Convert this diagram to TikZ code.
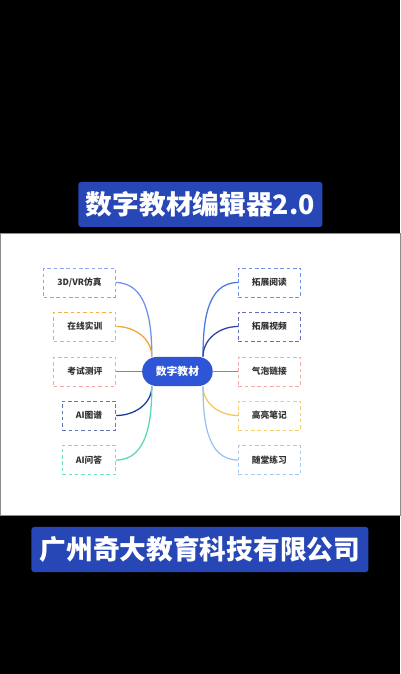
\documentclass[tikz,border=0pt]{standalone}
\usepackage{fontspec}
\setmainfont{Noto Sans CJK SC}

\definecolor{bannerblue}{HTML}{2847B6}
\definecolor{hubblue}{HTML}{2D55D6}
\definecolor{vrc}{HTML}{7090F0}
\definecolor{sxc}{HTML}{F0A830}
\definecolor{cpc}{HTML}{F05A5A}
\definecolor{tpc}{HTML}{1C3A9C}
\definecolor{wdc}{HTML}{5AD8BC}
\definecolor{ydc}{HTML}{4A78E6}
\definecolor{spc}{HTML}{3040A8}
\definecolor{qpc}{HTML}{F06060}
\definecolor{bjc}{HTML}{F2C860}
\definecolor{lxc}{HTML}{98C4F4}

\begin{document}
\begin{tikzpicture}[
    x=0.025cm, y=-0.025cm,
    banner/.style={fill=bannerblue, rounded corners=2pt, text=white, minimum height=1.125cm, font=\fontsize{19}{22}\selectfont\bfseries},
    hub/.style={fill=hubblue, rounded corners=0.36cm, text=white, minimum height=0.725cm, inner xsep=0.34cm, font=\fontsize{7.7}{9}\selectfont\bfseries},
    topic/.style={draw=#1, dashed, dash pattern=on 2.5pt off 2pt, line width=0.7pt, minimum height=0.725cm, inner xsep=0.34cm, text=black!80, font=\fontsize{6.2}{7}\selectfont\bfseries},
    link/.style={draw=#1, line width=0.9pt}
]

% Background
\fill[black] (0,0) rectangle (400,674);
\filldraw[fill=white, draw=black!45, line width=0.6pt] (0,233) rectangle (400,515);

% Banners
\node[banner, minimum width=6.1cm] (title) at (200,204.5) {数字教材编辑器2.0};
\node[banner, minimum width=8.425cm] (company) at (199.5,549.5) {广州奇大教育科技有限公司};

% Center
\node[hub] (hub) at (177,371.5) {数字教材};

% Left topics
\node[topic=vrc!80] (vr) at (79,282.5) {3D/VR仿真};
\node[topic=sxc!90] (shixun) at (84.5,326.5) {在线实训};
\node[topic=cpc!55] (ceping) at (84.5,371.5) {考试测评};
\node[topic=tpc!70] (tupu) at (88.5,415.5) {AI图谱};
\node[topic=wdc!85] (wenda) at (88.5,460) {AI问答};

% Right topics
\node[topic=ydc!80] (yuedu) at (269,282.5) {拓展阅读};
\node[topic=spc!75] (shipin) at (269,326.5) {拓展视频};
\node[topic=qpc!55] (qipao) at (269,371.5) {气泡链接};
\node[topic=bjc!90] (biji) at (269,415.5) {高亮笔记};
\node[topic=lxc!90] (lianxi) at (269,460) {随堂练习};

% Edges
\draw[link=vrc] (hub.150) to[out=90, in=0] (vr.east);
\draw[link=sxc] (hub.150) to[out=90, in=0] (shixun.east);
\draw[link=cpc] (hub.west) -- (ceping.east);
\draw[link=tpc] (hub.210) to[out=270, in=0] (tupu.east);
\draw[link=wdc] (hub.210) to[out=270, in=0] (wenda.east);

\draw[link=ydc] (hub.30) to[out=90, in=180] (yuedu.west);
\draw[link=spc] (hub.30) to[out=90, in=180] (shipin.west);
\draw[link=qpc] (hub.east) -- (qipao.west);
\draw[link=bjc] (hub.330) to[out=270, in=180] (biji.west);
\draw[link=lxc] (hub.330) to[out=270, in=180] (lianxi.west);

\end{tikzpicture}
\end{document}
